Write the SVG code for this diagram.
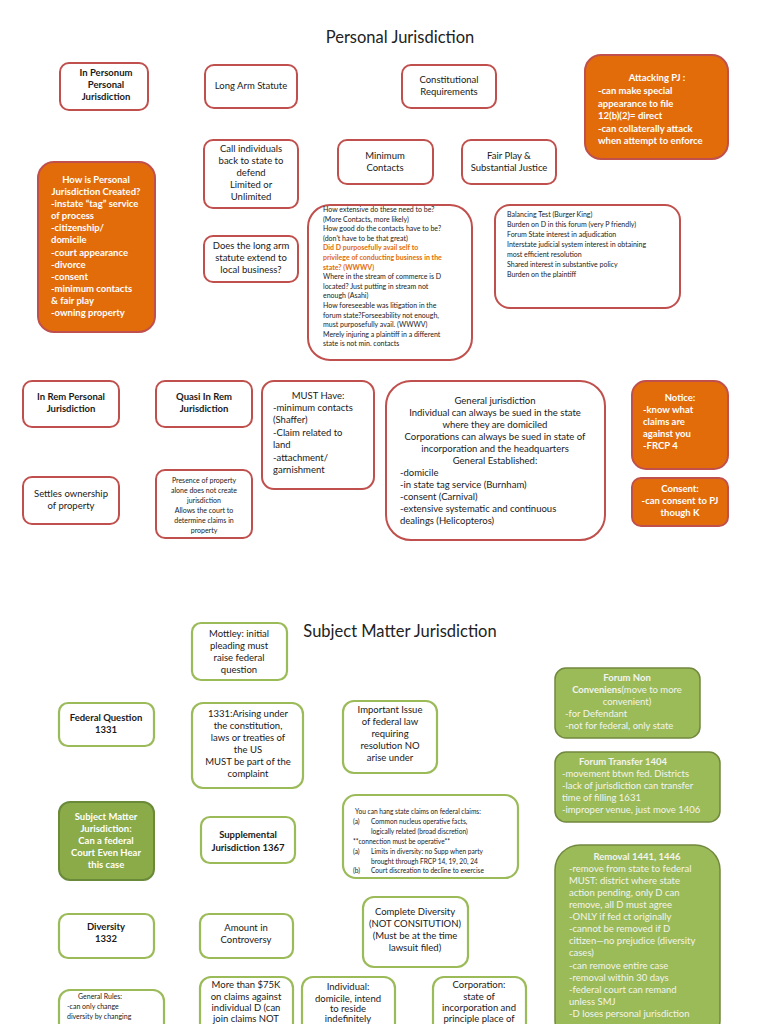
<svg xmlns="http://www.w3.org/2000/svg" width="768" height="1024" viewBox="0 0 768 1024">
<style>
text{font-family:Lato,"Open Sans","DejaVu Sans",sans-serif;font-size:9.5px;fill:#1a1a1a}
.c{text-anchor:middle}
.b{font-weight:bold}
.s{font-size:7px}
.xs{font-size:6.6px}
.t{font-size:16.5px;fill:#222}
.w{fill:#fff;font-weight:bold}
.lw{fill:#f4f4ee}
.lo{fill:#e36c0a;font-weight:bold}
.red{fill:#fff;stroke:#c0504d;stroke-width:2}
.org{fill:#e36c0a;stroke:#c0504d;stroke-width:2}
.grn{fill:#fff;stroke:#9bbb59;stroke-width:2.2}
.gf{fill:#9bbb59;stroke:#71893f;stroke-width:1.5}
.gd{fill:#8aab48;stroke:#6a8a3a;stroke-width:2}
</style>
<rect width="768" height="1024" fill="#fff"/>
<g id="connectors"/>
<g id="title-pj"><text class="t c" x="400" y="43">Personal Jurisdiction</text></g>
<g id="in-personum"><rect class="red" x="60" y="63" width="88" height="47" rx="9"/>
<text class="c b"><tspan x="106" y="76">In Personum</tspan><tspan x="106" y="88">Personal</tspan><tspan x="106" y="100">Jurisdiction</tspan></text></g>
<g id="long-arm"><rect class="red" x="205" y="65" width="92" height="43" rx="9"/>
<text class="c" x="251" y="89">Long Arm Statute</text></g>
<g id="constitutional"><rect class="red" x="402" y="65" width="94" height="43" rx="9"/>
<text class="c"><tspan x="449" y="83">Constitutional</tspan><tspan x="449" y="95">Requirements</tspan></text></g>
<g id="attacking-pj"><rect class="org" x="585" y="55" width="143" height="104" rx="16"/>
<text class="w"><tspan class="c" x="657" y="81">Attacking PJ :</tspan><tspan x="598" y="94">-can make special</tspan><tspan x="598" y="107">appearance to file</tspan><tspan x="598" y="119">12(b)(2)= direct</tspan><tspan x="598" y="132">-can collaterally attack</tspan><tspan x="598" y="144">when attempt to enforce</tspan></text></g>
<g id="call-individuals"><rect class="red" x="204" y="140" width="94" height="68" rx="9"/>
<text class="c"><tspan x="251" y="152">Call individuals</tspan><tspan x="251" y="164">back to state to</tspan><tspan x="251" y="176">defend</tspan><tspan x="251" y="188">Limited or</tspan><tspan x="251" y="200">Unlimited</tspan></text></g>
<g id="minimum-contacts"><rect class="red" x="338" y="140" width="95" height="44" rx="9"/>
<text class="c"><tspan x="385" y="159">Minimum</tspan><tspan x="385" y="171">Contacts</tspan></text></g>
<g id="fair-play"><rect class="red" x="462" y="140" width="94" height="44" rx="9"/>
<text class="c"><tspan x="509" y="159">Fair Play &amp;</tspan><tspan x="509" y="171">Substantial Justice</tspan></text></g>
<g id="how-created"><rect class="org" x="38" y="162" width="117" height="170" rx="16"/>
<text class="w"><tspan class="c" x="96" y="183">How is Personal</tspan><tspan class="c" x="96" y="195">Jurisdiction Created?</tspan><tspan x="51" y="207">-instate “tag” service</tspan><tspan x="51" y="219">of process</tspan><tspan x="51" y="231">-citizenship/</tspan><tspan x="51" y="243">domicile</tspan><tspan x="51" y="256">-court appearance</tspan><tspan x="51" y="268">-divorce</tspan><tspan x="51" y="280">-consent</tspan><tspan x="51" y="292">-minimum contacts</tspan><tspan x="51" y="304">&amp; fair play</tspan><tspan x="51" y="316">-owning property</tspan></text></g>
<g id="long-arm-local"><rect class="red" x="204" y="236" width="94" height="46" rx="9"/>
<text class="c"><tspan x="251" y="249">Does the long arm</tspan><tspan x="251" y="261">statute extend to</tspan><tspan x="251" y="273">local business?</tspan></text></g>
<g id="min-contacts-detail"><rect class="red" x="308" y="205" width="164" height="155" rx="22"/>
<text class="s"><tspan x="323" y="212">How extensive do these need to be?</tspan><tspan x="323" y="221.6">(More Contacts, more likely)</tspan><tspan x="323" y="231.2">How good do the contacts have to be?</tspan><tspan x="323" y="240.8">(don't have to be that great)</tspan><tspan class="lo" x="323" y="250.4">Did D purposefully avail self to</tspan><tspan class="lo" x="323" y="260">privilege of conducting business in the</tspan><tspan class="lo" x="323" y="269.6">state? (WWWV)</tspan><tspan x="323" y="279.2">Where in the stream of commerce is D</tspan><tspan x="323" y="288.8">located? Just putting in stream not</tspan><tspan x="323" y="298.4">enough (Asahi)</tspan><tspan x="323" y="308">How foreseeable was litigation in the</tspan><tspan x="323" y="317.6">forum state?Forseeability not enough,</tspan><tspan x="323" y="327.2">must purposefully avail. (WWWV)</tspan><tspan x="323" y="336.8">Merely injuring a plaintiff in a different</tspan><tspan x="323" y="346.4">state is not min. contacts</tspan></text></g>
<g id="balancing-test"><rect class="red" x="495" y="205" width="185" height="103" rx="15"/>
<text class="s"><tspan x="507" y="217">Balancing Test (Burger King)</tspan><tspan x="507" y="227">Burden on D  in this forum (very P friendly)</tspan><tspan x="507" y="237">Forum State interest in adjudication</tspan><tspan x="507" y="247">Interstate judicial system interest in obtaining</tspan><tspan x="507" y="256.5">most efficient resolution</tspan><tspan x="507" y="266.5">Shared interest in substantive policy</tspan><tspan x="507" y="276.5">Burden on the plaintiff</tspan></text></g>
<g id="in-rem"><rect class="red" x="23" y="381" width="96" height="46" rx="9"/>
<text class="c b"><tspan x="71" y="400">In Rem Personal</tspan><tspan x="71" y="412">Jurisdiction</tspan></text></g>
<g id="quasi-in-rem"><rect class="red" x="156" y="381" width="96" height="46" rx="9"/>
<text class="c b"><tspan x="204" y="400">Quasi In Rem</tspan><tspan x="204" y="412">Jurisdiction</tspan></text></g>
<g id="must-have"><rect class="red" x="262" y="381" width="112" height="108" rx="12"/>
<text><tspan class="c" x="318" y="399">MUST Have:</tspan><tspan x="273" y="411">-minimum contacts</tspan><tspan x="273" y="423">(Shaffer)</tspan><tspan x="273" y="436">-Claim related to</tspan><tspan x="273" y="448">land</tspan><tspan x="273" y="461">-attachment/</tspan><tspan x="273" y="473">garnishment</tspan></text></g>
<g id="general-jurisdiction"><rect class="red" x="386" y="381" width="219" height="159" rx="25"/>
<text><tspan class="c" x="495" y="404">General jurisdiction</tspan><tspan class="c" x="495" y="416">Individual can always be sued in the state</tspan><tspan class="c" x="495" y="428">where they are domiciled</tspan><tspan class="c" x="495" y="440">Corporations can always be sued in state of</tspan><tspan class="c" x="495" y="452">incorporation and the headquarters</tspan><tspan class="c" x="495" y="464">General Established:</tspan><tspan x="400" y="476">-domicile</tspan><tspan x="400" y="488">-in state tag service (Burnham)</tspan><tspan x="400" y="500">-consent (Carnival)</tspan><tspan x="400" y="512">-extensive  systematic and continuous</tspan><tspan x="400" y="524">dealings (Helicopteros)</tspan></text></g>
<g id="notice"><rect class="org" x="632" y="381" width="96" height="88" rx="14"/>
<text class="w"><tspan class="c" x="680" y="401">Notice:</tspan><tspan x="643" y="413">-know what</tspan><tspan x="643" y="425">claims are</tspan><tspan x="643" y="437">against you</tspan><tspan x="643" y="449">-FRCP 4</tspan></text></g>
<g id="consent"><rect class="org" x="632" y="478" width="96" height="48" rx="9"/>
<text class="w c"><tspan x="680" y="492">Consent:</tspan><tspan x="680" y="504">-can consent to PJ</tspan><tspan x="680" y="516">though K</tspan></text></g>
<g id="settles-ownership"><rect class="red" x="23" y="477" width="96" height="47" rx="9"/>
<text class="c"><tspan x="71" y="497">Settles ownership</tspan><tspan x="71" y="509">of property</tspan></text></g>
<g id="presence-property"><rect class="red" x="156" y="470" width="96" height="68" rx="9"/>
<text class="c s"><tspan x="204" y="483">Presence of property</tspan><tspan x="204" y="493">alone does not create</tspan><tspan x="204" y="503">jurisdiction</tspan><tspan x="204" y="513">Allows the court to</tspan><tspan x="204" y="523">determine claims in</tspan><tspan x="204" y="533">property</tspan></text></g>
<g id="title-smj"><text class="t c" x="400" y="637">Subject Matter Jurisdiction</text></g>
<g id="mottley"><rect class="grn" x="192" y="623" width="95" height="57" rx="9"/>
<text class="c"><tspan x="239" y="637">Mottley: initial</tspan><tspan x="239" y="649">pleading must</tspan><tspan x="239" y="661">raise federal</tspan><tspan x="239" y="673">question</tspan></text></g>
<g id="federal-question"><rect class="grn" x="59" y="703" width="95" height="43" rx="9"/>
<text class="c b"><tspan x="106" y="721">Federal Question</tspan><tspan x="106" y="733">1331</tspan></text></g>
<g id="arising-under"><rect class="grn" x="192" y="703" width="111" height="85" rx="11"/>
<text class="c"><tspan x="248" y="717">1331:Arising under</tspan><tspan x="248" y="729">the constitution,</tspan><tspan x="248" y="741">laws or treaties of</tspan><tspan x="248" y="753">the US</tspan><tspan x="248" y="765">MUST be part of the</tspan><tspan x="248" y="777">complaint</tspan></text></g>
<g id="important-issue"><rect class="grn" x="343" y="701" width="94" height="72" rx="11"/>
<text class="c"><tspan x="390" y="713">Important Issue</tspan><tspan x="390" y="725">of federal law</tspan><tspan x="390" y="737">requiring</tspan><tspan x="390" y="749">resolution NO</tspan><tspan x="390" y="761">arise under</tspan></text></g>
<g id="forum-non-conveniens"><rect class="gf" x="555" y="668" width="145" height="70" rx="11"/>
<text class="lw"><tspan class="c b" x="627" y="681">Forum Non</tspan><tspan class="c" x="627" y="693"><tspan class="b">Conveniens</tspan>(move to more</tspan><tspan class="c" x="627" y="705">convenient)</tspan><tspan x="565" y="717">-for Defendant</tspan><tspan x="565" y="729">-not for federal, only state</tspan></text></g>
<g id="forum-transfer"><rect class="gf" x="555" y="752" width="165" height="70" rx="11"/>
<text class="lw"><tspan class="c b" x="623" y="765">Forum Transfer 1404</tspan><tspan x="562" y="777">-movement btwn fed. Districts</tspan><tspan x="562" y="789">-lack of jurisdiction can transfer</tspan><tspan x="562" y="801">time of filling 1631</tspan><tspan x="562" y="813">-improper venue, just move 1406</tspan></text></g>
<g id="smj-main"><rect class="gd" x="59" y="802" width="95" height="78" rx="11"/>
<text class="c w"><tspan x="106" y="820">Subject Matter</tspan><tspan x="106" y="832">Jurisdiction:</tspan><tspan x="106" y="844">Can a federal</tspan><tspan x="106" y="856">Court Even Hear</tspan><tspan x="106" y="868">this case</tspan></text></g>
<g id="supplemental"><rect class="grn" x="201" y="817" width="94" height="46" rx="9"/>
<text class="c b"><tspan x="248" y="838">Supplemental</tspan><tspan x="248" y="851">Jurisdiction 1367</tspan></text></g>
<g id="supplemental-detail"><rect class="grn" x="343" y="795" width="175" height="83" rx="13"/>
<text class="xs"><tspan x="355" y="814">You can hang state claims on federal claims:</tspan><tspan x="353" y="824">(a)</tspan><tspan x="371" y="824">Common nucleus operative facts,</tspan><tspan x="371" y="834">logically related (broad discretion)</tspan><tspan x="353" y="844">**connection must be operative**</tspan><tspan x="353" y="854">(a)</tspan><tspan x="371" y="854">Limits in diversity: no Supp when party</tspan><tspan x="371" y="863.5">brought through FRCP 14, 19, 20, 24</tspan><tspan x="353" y="873">(b)</tspan><tspan x="371" y="873">Court discreation to decline to exercise</tspan></text></g>
<g id="removal"><rect class="gf" x="555" y="845" width="165" height="200" rx="25"/>
<text class="lw"><tspan class="c b" x="637" y="860">Removal 1441, 1446</tspan><tspan x="569" y="872">-remove from state to federal</tspan><tspan x="569" y="884">MUST: district where state</tspan><tspan x="569" y="896">action pending, only D can</tspan><tspan x="569" y="908">remove, all D must agree</tspan><tspan x="569" y="920">-ONLY if fed ct originally</tspan><tspan x="569" y="932">-cannot be removed if D</tspan><tspan x="569" y="944">citizen—no prejudice (diversity</tspan><tspan x="569" y="956">cases)</tspan><tspan x="569" y="969">-can remove entire case</tspan><tspan x="569" y="981">-removal within 30 days</tspan><tspan x="569" y="993">-federal court can remand</tspan><tspan x="569" y="1005">unless SMJ</tspan><tspan x="569" y="1017">-D loses personal jurisdiction</tspan></text></g>
<g id="diversity"><rect class="grn" x="59" y="914" width="95" height="44" rx="9"/>
<text class="c b"><tspan x="106" y="930">Diversity</tspan><tspan x="106" y="942">1332</tspan></text></g>
<g id="amount-controversy"><rect class="grn" x="200" y="914" width="93" height="44" rx="9"/>
<text class="c"><tspan x="246" y="931">Amount in</tspan><tspan x="246" y="943">Controversy</tspan></text></g>
<g id="complete-diversity"><rect class="grn" x="363" y="897" width="105" height="70" rx="11"/>
<text class="c"><tspan x="415" y="915">Complete Diversity</tspan><tspan x="415" y="927">(NOT CONSITUTION)</tspan><tspan x="415" y="939">(Must be at the time</tspan><tspan x="415" y="951">lawsuit filed)</tspan></text></g>
<g id="general-rules"><rect class="grn" x="59" y="990" width="105" height="60" rx="11"/>
<text class="s"><tspan class="c" x="100" y="999">General Rules:</tspan><tspan x="67" y="1009">-can only change</tspan><tspan x="67" y="1019">diversity by changing</tspan></text></g>
<g id="more-than-75k"><rect class="grn" x="200" y="977" width="93" height="70" rx="11"/>
<text class="c"><tspan x="246" y="988">More than $75K</tspan><tspan x="246" y="999.5">on claims against</tspan><tspan x="246" y="1011">individual D (can</tspan><tspan x="246" y="1021.5">join claims NOT</tspan></text></g>
<g id="individual"><rect class="grn" x="302" y="977" width="93" height="70" rx="11"/>
<text class="c"><tspan x="348" y="990">Individual:</tspan><tspan x="348" y="1001.5">domicile, intend</tspan><tspan x="348" y="1012">to reside</tspan><tspan x="348" y="1021.5">indefinitely</tspan></text></g>
<g id="corporation"><rect class="grn" x="433" y="977" width="93" height="70" rx="11"/>
<text class="c"><tspan x="479" y="988">Corporation:</tspan><tspan x="479" y="1000">state of</tspan><tspan x="479" y="1011">incorporation and</tspan><tspan x="479" y="1021.5">principle place of</tspan></text></g>
</svg>
